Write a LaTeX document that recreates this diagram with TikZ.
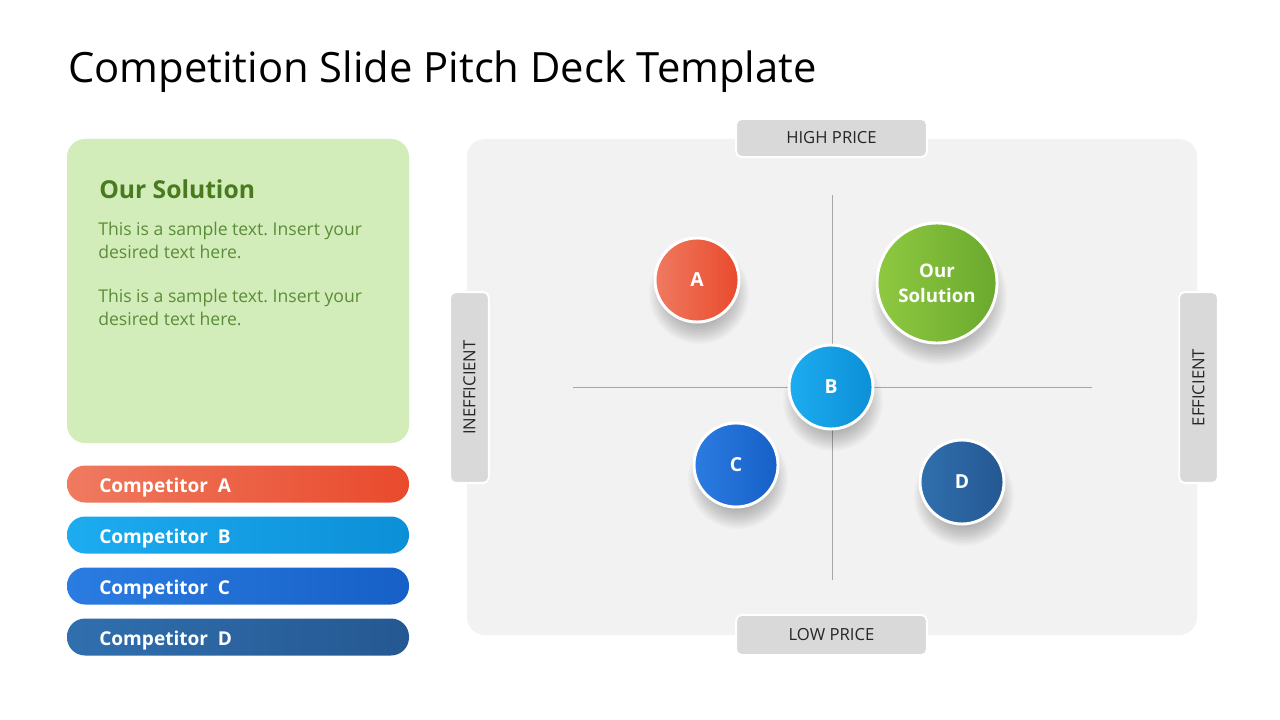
\documentclass[tikz,border=0pt]{standalone}
\usepackage{fontspec}
\setmainfont{Open Sans}
\definecolor{panelgreen}{HTML}{D3EDBA}
\definecolor{darkgreen}{HTML}{4A7A1E}
\definecolor{textgreen}{HTML}{5B8C3A}
\definecolor{panelgray}{HTML}{F2F2F2}
\definecolor{labelgray}{HTML}{D9D9D9}
\definecolor{axisgray}{HTML}{A6A6A6}
\definecolor{aL}{HTML}{EF7A60}\definecolor{aR}{HTML}{E94A2C}
\definecolor{bL}{HTML}{1DACF0}\definecolor{bR}{HTML}{0C8FD6}
\definecolor{cL}{HTML}{2B7CE2}\definecolor{cR}{HTML}{1660C7}
\definecolor{dL}{HTML}{306FAE}\definecolor{dR}{HTML}{255892}
\definecolor{gL}{HTML}{8FC941}\definecolor{gR}{HTML}{6AA92D}
\tikzset{
  bar/.style={rounded corners=13.5pt, minimum width=256.5pt, minimum height=27.75pt, inner sep=0pt, shading angle=-80},
  bartext/.style={anchor=west, inner sep=0pt, text=white, font=\fontsize{14.3}{16}\selectfont\bfseries},
  ball/.style={circle, draw=white, line width=2.2pt, inner sep=0pt, shading angle=-45,
     text=white, font=\fontsize{14.5}{18}\selectfont\bfseries, align=center},
  softshadow/.style={fill=black, opacity=0.02},
  axislabel/.style={fill=labelgray, draw=white, line width=1.4pt, rounded corners=4pt, inner sep=0pt,
     font=\fontsize{12.5}{14}\selectfont, text=black!85},
  axisline/.style={draw=axisgray, line width=0.6pt},
  bodytext/.style={anchor=north west, inner sep=0pt, text=textgreen, align=left, font=\fontsize{13.2}{17.25}\selectfont}
}
\frenchspacing
\begin{document}
\begin{tikzpicture}[x=0.75pt,y=-0.75pt]
\useasboundingbox[fill=white] (0,0) rectangle (1280,720);
% title
\node[anchor=base west, inner sep=0pt, font=\fontsize{31.3}{36}\selectfont] (title) at (68,83) {Competition Slide Pitch Deck Template};
% green panel
\node[fill=panelgreen, rounded corners=13.5pt, minimum width=256.5pt, minimum height=228pt, inner sep=0pt] (solpanel) at (238,291) {};
\node[anchor=west, inner sep=0pt, text=darkgreen, font=\fontsize{18.5}{22}\selectfont\bfseries] (soltitle) at (99,189) {Our Solution};
\node[bodytext] (body1) at (98,222) {This is a sample text. Insert your\\desired text here.};
\node[bodytext] (body2) at (98,289) {This is a sample text. Insert your\\desired text here.};
% competitor bars
\node[bar, left color=aL, right color=aR] (barA) at (238,484) {};
\node[bartext] (tA) at (99,488) {Competitor~ A};
\node[bar, left color=bL, right color=bR] (barB) at (238,535) {};
\node[bartext] (tB) at (99,539) {Competitor~ B};
\node[bar, left color=cL, right color=cR] (barC) at (238,586) {};
\node[bartext] (tC) at (99,590) {Competitor~ C};
\node[bar, left color=dL, right color=dR] (barD) at (238,637) {};
\node[bartext] (tD) at (99,641) {Competitor~ D};
% chart panel
\node[fill=panelgray, rounded corners=13.5pt, minimum width=547.5pt, minimum height=372pt, inner sep=0pt] (chart) at (832,387) {};
% axes
\coordinate (vtop) at (832,195);
\coordinate (vbot) at (832,580);
\coordinate (hleft) at (573,387);
\coordinate (hright) at (1092,387);
\draw[axisline] (vtop) -- (vbot);
\draw[axisline] (hleft) -- (hright);
% axis labels
\node[axislabel, minimum width=143pt, minimum height=28.5pt] (high) at (831.5,138) {HIGH PRICE};
\node[axislabel, minimum width=143pt, minimum height=30pt] (low) at (831.5,635) {LOW PRICE};
\node[axislabel, minimum width=29pt, minimum height=143pt] (ineff) at (469.5,387.5) {};
\node[rotate=90, font=\fontsize{12.5}{14}\selectfont, text=black!85, inner sep=0pt] (ineffT) at (ineff.center) {INEFFICIENT};
\node[axislabel, minimum width=29pt, minimum height=143pt] (eff) at (1198.5,387.5) {};
\node[rotate=90, font=\fontsize{12.5}{14}\selectfont, text=black!85, inner sep=0pt] (effT) at (eff.center) {EFFICIENT};
% circle positions
\coordinate (pA) at (697,280);
\coordinate (pS) at (937,283);
\coordinate (pB) at (831,387);
\coordinate (pC) at (736,465);
\coordinate (pD) at (962,482);
% soft shadows
\foreach \p/\r in {pA/42, pB/42, pC/42, pD/42, pS/60}{
  \foreach \k in {-16,-14.5,...,9}{
    \fill[softshadow] ([shift={(2,14)}]\p) circle[radius={(\r+\k)*0.75pt}];
  }
}
% circles
\node[ball, minimum size=63pt, left color=aL, right color=aR] (cA) at (pA) {A};
\node[ball, minimum size=90pt, left color=gL, right color=gR, font=\fontsize{14}{18.5}\selectfont\bfseries] (cS) at (pS) {Our\\Solution};
\node[ball, minimum size=63pt, left color=bL, right color=bR] (cB) at (pB) {B};
\node[ball, minimum size=63pt, left color=cL, right color=cR] (cC) at (pC) {C};
\node[ball, minimum size=63pt, left color=dL, right color=dR] (cD) at (pD) {D};
\end{tikzpicture}
\end{document}
